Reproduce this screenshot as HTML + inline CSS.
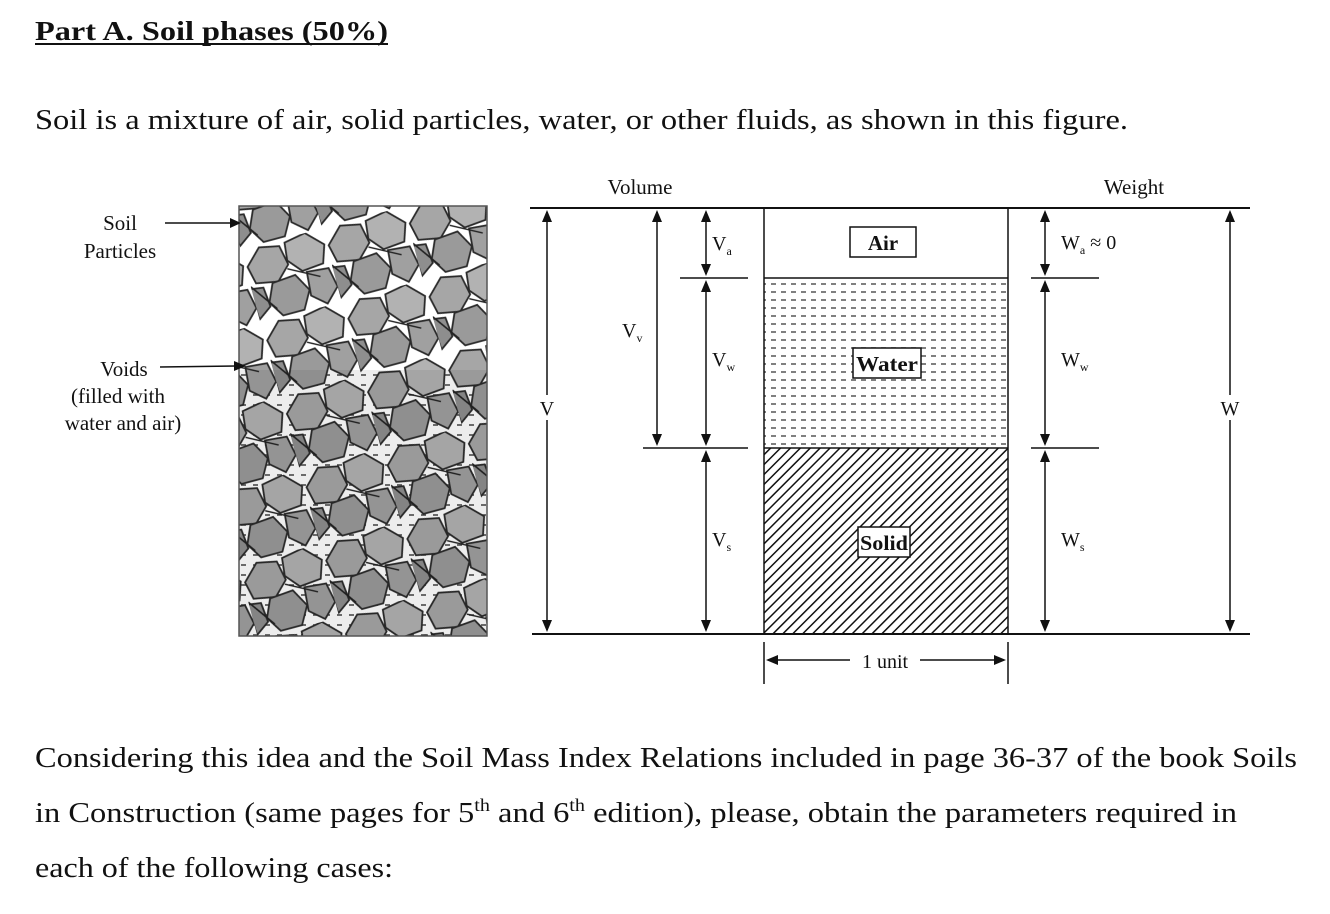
<!DOCTYPE html>
<html><head><meta charset="utf-8"><style>
html,body{margin:0;padding:0;background:#fff;width:1330px;height:914px;overflow:hidden}
svg{display:block}
text{font-family:"Liberation Serif","Times New Roman",Times,serif;fill:#111}
</style></head><body>
<svg width="1330" height="914" viewBox="0 0 1330 914" xmlns="http://www.w3.org/2000/svg">
<defs>
<pattern id="dash" width="10" height="8" patternUnits="userSpaceOnUse">
<line x1="1" y1="4" x2="6" y2="4" stroke="#555" stroke-width="1.5"/>
</pattern>
<pattern id="sdash" width="12" height="10" patternUnits="userSpaceOnUse">
<line x1="1" y1="5" x2="6" y2="5" stroke="#444" stroke-width="1.5"/>
</pattern>
<pattern id="hatch" width="7" height="7" patternUnits="userSpaceOnUse" patternTransform="rotate(45)">
<line x1="0" y1="0" x2="0" y2="7" stroke="#111" stroke-width="3"/>
</pattern>
<pattern id="hex" width="84" height="76" patternUnits="userSpaceOnUse" patternTransform="rotate(-15)">
<polygon points="2,18 18,2 38,6 42,26 28,40 6,36" fill="#a6a6a6" stroke="#2a2a2a" stroke-width="1.8"/>
<polygon points="44,4 66,0 82,16 76,34 54,36 42,22" fill="#b2b2b2" stroke="#2a2a2a" stroke-width="1.8"/>
<polygon points="22,40 46,38 56,56 46,74 24,74 14,58" fill="#9a9a9a" stroke="#2a2a2a" stroke-width="1.8"/>
<polygon points="58,38 80,40 84,60 70,74 56,62" fill="#a0a0a0" stroke="#2a2a2a" stroke-width="1.8"/>
<polygon points="-2,40 12,42 14,62 0,72" fill="#8e8e8e" stroke="#2a2a2a" stroke-width="1.8"/>
<line x1="0" y1="38" x2="20" y2="66" stroke="#222" stroke-width="1.6"/>
<line x1="40" y1="30" x2="70" y2="46" stroke="#222" stroke-width="1.4"/>
</pattern>
</defs>

<!-- Title -->
<text x="35" y="40" font-size="27" font-weight="bold" textLength="353" lengthAdjust="spacingAndGlyphs">Part A. Soil phases (50%)</text>
<line x1="35" y1="44" x2="388" y2="44" stroke="#111" stroke-width="2"/>
<text x="35" y="129" font-size="29" textLength="1093" lengthAdjust="spacingAndGlyphs">Soil is a mixture of air, solid particles, water, or other fluids, as shown in this figure.</text>

<!-- Soil sample -->
<rect x="239" y="370" width="248" height="266" fill="url(#sdash)"/>
<rect x="239" y="206" width="248" height="430" fill="url(#hex)"/>
<rect x="239" y="370" width="248" height="266" fill="#000" opacity="0.07"/>
<rect x="239" y="206" width="248" height="430" fill="none" stroke="#555" stroke-width="1.5"/>

<!-- soil labels -->
<text x="120" y="230" font-size="21" text-anchor="middle">Soil</text>
<text x="120" y="258" font-size="21" text-anchor="middle">Particles</text>
<line x1="165" y1="223" x2="232" y2="223" stroke="#111" stroke-width="1.5"/>
<polygon points="241,223 230,218 230,228" fill="#111"/>
<text x="124" y="376" font-size="21" text-anchor="middle">Voids</text>
<text x="118" y="403" font-size="21" text-anchor="middle">(filled with</text>
<text x="123" y="430" font-size="21" text-anchor="middle">water and air)</text>
<line x1="160" y1="367" x2="236" y2="366" stroke="#111" stroke-width="1.5"/>
<polygon points="246,366 234,361 234,371" fill="#111"/>

<!-- Phase diagram -->
<text x="640" y="194" font-size="21" text-anchor="middle">Volume</text>
<text x="1134" y="194" font-size="21" text-anchor="middle">Weight</text>
<line x1="530" y1="208" x2="1250" y2="208" stroke="#111" stroke-width="2"/>
<line x1="532" y1="634" x2="1250" y2="634" stroke="#111" stroke-width="2"/>

<rect x="764" y="278" width="244" height="170" fill="url(#dash)"/>
<rect x="764" y="448" width="244" height="186" fill="url(#hatch)"/>
<line x1="764" y1="208" x2="764" y2="634" stroke="#111" stroke-width="1.5"/>
<line x1="1008" y1="208" x2="1008" y2="634" stroke="#111" stroke-width="1.5"/>
<line x1="764" y1="278" x2="1008" y2="278" stroke="#111" stroke-width="1.5"/>
<line x1="764" y1="448" x2="1008" y2="448" stroke="#111" stroke-width="1.5"/>

<rect x="850" y="227" width="66" height="30" fill="#fff" stroke="#111" stroke-width="1.5"/>
<text x="883" y="250" font-size="21" font-weight="bold" text-anchor="middle">Air</text>
<rect x="853" y="348" width="68" height="30" fill="#fff" stroke="#111" stroke-width="1.5"/>
<text x="887" y="371" font-size="21" font-weight="bold" text-anchor="middle" textLength="62" lengthAdjust="spacingAndGlyphs">Water</text>
<rect x="858" y="527" width="52" height="30" fill="#fff" stroke="#111" stroke-width="1.5"/>
<text x="884" y="550" font-size="21" font-weight="bold" text-anchor="middle" textLength="48" lengthAdjust="spacingAndGlyphs">Solid</text>

<!-- tick lines -->
<line x1="680" y1="278" x2="748" y2="278" stroke="#111" stroke-width="1.5"/>
<line x1="643" y1="448" x2="748" y2="448" stroke="#111" stroke-width="1.5"/>
<line x1="1031" y1="278" x2="1099" y2="278" stroke="#111" stroke-width="1.5"/>
<line x1="1031" y1="448" x2="1099" y2="448" stroke="#111" stroke-width="1.5"/>

<g stroke="#111" stroke-width="1.5">
<line x1="547" y1="212" x2="547" y2="395"/><line x1="547" y1="420" x2="547" y2="630"/>
<line x1="657" y1="212" x2="657" y2="444"/>
<line x1="706" y1="212" x2="706" y2="274"/>
<line x1="706" y1="282" x2="706" y2="444"/>
<line x1="706" y1="452" x2="706" y2="630"/>
<line x1="1045" y1="212" x2="1045" y2="274"/>
<line x1="1045" y1="282" x2="1045" y2="444"/>
<line x1="1045" y1="452" x2="1045" y2="630"/>
<line x1="1230" y1="212" x2="1230" y2="395"/><line x1="1230" y1="420" x2="1230" y2="630"/>
<line x1="764" y1="642" x2="764" y2="684"/><line x1="1008" y1="642" x2="1008" y2="684"/>
<line x1="768" y1="660" x2="850" y2="660"/><line x1="920" y1="660" x2="1004" y2="660"/>
</g>
<g fill="#111">
<polygon points="547,210 542,222 552,222"/><polygon points="547,632 542,620 552,620"/>
<polygon points="657,210 652,222 662,222"/><polygon points="657,446 652,434 662,434"/>
<polygon points="706,210 701,222 711,222"/><polygon points="706,276 701,264 711,264"/>
<polygon points="706,280 701,292 711,292"/><polygon points="706,446 701,434 711,434"/>
<polygon points="706,450 701,462 711,462"/><polygon points="706,632 701,620 711,620"/>
<polygon points="1045,210 1040,222 1050,222"/><polygon points="1045,276 1040,264 1050,264"/>
<polygon points="1045,280 1040,292 1050,292"/><polygon points="1045,446 1040,434 1050,434"/>
<polygon points="1045,450 1040,462 1050,462"/><polygon points="1045,632 1040,620 1050,620"/>
<polygon points="1230,210 1225,222 1235,222"/><polygon points="1230,632 1225,620 1235,620"/>
<polygon points="766,660 778,655 778,665"/><polygon points="1006,660 994,655 994,665"/>
</g>

<text x="547" y="415" font-size="20" text-anchor="middle">V</text>
<text x="622" y="337" font-size="20">V<tspan font-size="12" dy="5">v</tspan></text>
<text x="712" y="250" font-size="20">V<tspan font-size="12" dy="5">a</tspan></text>
<text x="712" y="366" font-size="20">V<tspan font-size="12" dy="5">w</tspan></text>
<text x="712" y="546" font-size="20">V<tspan font-size="12" dy="5">s</tspan></text>
<text x="1061" y="249" font-size="20">W<tspan font-size="12" dy="5">a</tspan><tspan dy="-5"> ≈ 0</tspan></text>
<text x="1061" y="366" font-size="20">W<tspan font-size="12" dy="5">w</tspan></text>
<text x="1061" y="546" font-size="20">W<tspan font-size="12" dy="5">s</tspan></text>
<text x="1230" y="415" font-size="20" text-anchor="middle">W</text>
<text x="885" y="668" font-size="20" text-anchor="middle">1 unit</text>

<!-- bottom text -->
<text x="35" y="767" font-size="29" textLength="1262" lengthAdjust="spacingAndGlyphs">Considering this idea and the Soil Mass Index Relations included in page 36-37 of the book Soils</text>
<text x="35" y="822" font-size="29" textLength="1202" lengthAdjust="spacingAndGlyphs">in Construction (same pages for 5<tspan font-size="18" dy="-11">th</tspan><tspan dy="11"> and 6</tspan><tspan font-size="18" dy="-11">th</tspan><tspan dy="11"> edition), please, obtain the parameters required in</tspan></text>
<text x="35" y="877" font-size="29" textLength="358" lengthAdjust="spacingAndGlyphs">each of the following cases:</text>
</svg>
</body></html>
